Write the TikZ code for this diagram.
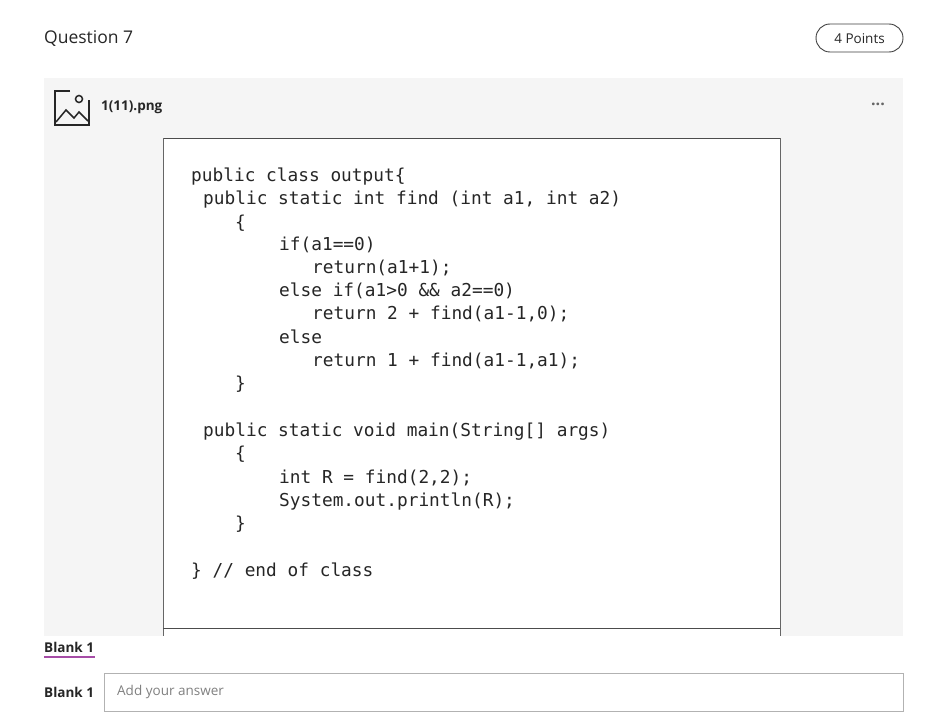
\documentclass[tikz,border=0pt]{standalone}
\usepackage{fontspec}
\setmainfont{Open Sans}
\newfontfamily\codefont{DejaVu Sans Mono}
\begin{document}
\begin{tikzpicture}[x=1pt,y=-1pt,
  code/.style={anchor=base west,inner sep=0pt,font=\codefont\fontsize{17.8}{20}\selectfont,text=black!85},
  ui/.style={inner sep=0pt,text=black!85}]
\useasboundingbox (0,0) rectangle (932,725);
\fill[white] (0,0) rectangle (932,725);
\node[ui,anchor=west,font=\fontsize{17.5}{20}\selectfont] (q) at (44,39) {Question 7};
\draw[black!75,rounded corners=14pt,line width=0.9pt] (816,24) rectangle (903,52);
\node[ui,font=\fontsize{13.5}{15}\selectfont] (pts) at (859.5,38.5) {4 Points};
\fill[black!4] (44,78) rectangle (903,636);
% icon
\draw[black!85,line width=1.5pt] (70,91) -- (55,91) -- (55,125) -- (89,125) -- (89,100);
\draw[black!85,line width=1.5pt] (56,122) -- (66,110) -- (74,118) -- (79,112) -- (88,121);
\draw[black!85,line width=1.5pt] (79,99) circle (3.5);
\node[ui,anchor=west,font=\bfseries\fontsize{13.5}{15}\selectfont] (fn) at (101,107) {1(11).png};
\node[ui,font=\bfseries\fontsize{16}{15}\selectfont,text=black!60] (dots) at (878,104) {...};
% code image
\fill[white] (163,138) rectangle (780,636);
\draw[black!70,line width=1pt] (163,138) -- (780,138);
\draw[black!60,line width=0.8pt] (163,138) -- (163,636) (780,138) -- (780,636);
\draw[black!70,line width=1pt] (163,628) -- (780,628);
\node[code] (l1) at (191,181) {public class output\{};
\node[code] (l2) at (203,204) {public static int find (int a1, int a2)};
\node[code] (l3) at (235,228) {\{};
\node[code] (l4) at (279,250) {if(a1==0)};
\node[code] (l5) at (312,273) {return(a1+1);};
\node[code] (l6) at (279,296) {else if(a1>0 \&\& a2==0)};
\node[code] (l7) at (312,319) {return 2 + find(a1-1,0);};
\node[code] (l8) at (279,343) {else};
\node[code] (l9) at (312,366) {return 1 + find(a1-1,a1);};
\node[code] (l10) at (235,389) {\}};
\node[code] (l11) at (203,436) {public static void main(String[] args)};
\node[code] (l12) at (235,459) {\{};
\node[code] (l13) at (279,483) {int R = find(2,2);};
\node[code] (l14) at (279,506) {System.out.println(R);};
\node[code] (l15) at (235,529) {\}};
\node[code] (l16) at (191,576) {\} // end of class};
% blanks
\node[ui,anchor=west,font=\bfseries\fontsize{13.5}{15}\selectfont] (b1) at (44,647) {Blank 1};
\draw[violet!70,line width=1.5pt] (44,657) -- (95,657);
\node[ui,anchor=west,font=\bfseries\fontsize{13.5}{15}\selectfont] (b2) at (44,692) {Blank 1};
\draw[black!30,line width=0.8pt] (104,673) rectangle (903,711);
\node[ui,anchor=west,font=\fontsize{13.5}{15}\selectfont,text=black!50] (ph) at (117,692) {Add your answer};
\end{tikzpicture}
\end{document}
